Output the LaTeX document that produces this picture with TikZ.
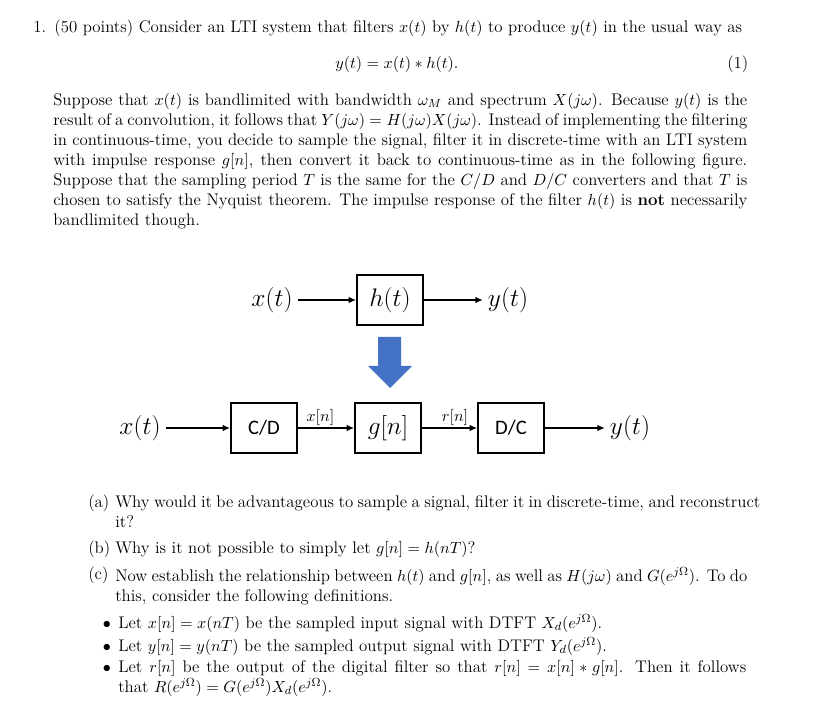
\documentclass[tikz,border=0pt]{standalone}
\usepackage{fontspec}
\newfontfamily\carlitofont{Carlito}
\usetikzlibrary{arrows.meta}
\begin{document}
\begin{tikzpicture}[x=0.68pt,y=-0.68pt,
  txt/.style={anchor=north west,inner sep=0pt,align=justify,font=\fontsize{11.45}{13.6}\selectfont},
  blk/.style={draw,line width=1.2pt,minimum width=45pt,minimum height=34pt,inner sep=0pt},
  big/.style={font=\fontsize{16}{18}\selectfont},
  sm/.style={font=\fontsize{11}{12}\selectfont},
  arr/.style={-{Latex[length=5pt,width=4.5pt]},line width=0.9pt}]
\useasboundingbox (0,0) rectangle (817,709);
\node[txt,text width=712*0.68pt] (p1) at (33,20) {1.\ \,(50 points) Consider an LTI system that filters $x(t)$ by $h(t)$ to produce $y(t)$ in the usual way as};
\node[txt] (eq) at (335,56) {$y(t)=x(t)*h(t).$};
\node[txt] (eqn) at (727,56) {(1)};
\node[txt,text width=694*0.68pt] (p2) at (53,93) {Suppose that $x(t)$ is bandlimited with bandwidth $\omega_M$ and spectrum $X(j\omega)$. Because $y(t)$ is the result of a convolution, it follows that $Y(j\omega)=H(j\omega)X(j\omega)$. Instead of implementing the filtering in continuous-time, you decide to sample the signal, filter it in discrete-time with an LTI system with impulse response $g[n]$, then convert it back to continuous-time as in the following figure. Suppose that the sampling period $T$ is the same for the $C/D$ and $D/C$ converters and that $T$ is chosen to satisfy the Nyquist theorem. The impulse response of the filter $h(t)$ is \textbf{not} necessarily bandlimited though.};
% diagram top
\node[big] (xt1) at (272,300) {$x(t)$};
\node[blk,big] (h) at (390,300) {$h(t)$};
\node[big] (yt1) at (508,300) {$y(t)$};
\draw[arr] (xt1) -- (h);
\draw[arr] (h) -- (yt1);
\fill[fill={rgb,255:red,68;green,114;blue,196}] (378,337) -- (401,337) -- (401,366) -- (412,366) -- (390,388) -- (368,366) -- (378,366) -- cycle;
% bottom
\node[big] (xt2) at (140,428) {$x(t)$};
\node[blk,font=\carlitofont\fontsize{14}{16}\selectfont] (cd) at (264,428) {C/D};
\node[blk,big] (g) at (388,428) {$g[n]$};
\node[blk,font=\carlitofont\fontsize{14}{16}\selectfont] (dc) at (511,428) {D/C};
\node[big] (yt2) at (630,428) {$y(t)$};
\draw[arr] (xt2) -- (cd);
\draw[arr] (cd) -- node[sm,above,pos=0.4,inner sep=1pt] {$x[n]$} (g);
\draw[arr] (g) -- node[sm,above,pos=0.6,inner sep=1pt] {$r[n]$} (dc);
\draw[arr] (dc) -- (yt2);
% questions
\node[txt] (la) at (88,495) {(a)};
\node[txt,text width=645*0.68pt] (qa) at (115,495) {Why would it be advantageous to sample a signal, filter it in discrete-time, and \mbox{reconstruct}\\ it?};
\node[txt] (lb) at (88,541) {(b)};
\node[txt,text width=632*0.68pt] (qb) at (115,541) {Why is it not possible to simply let $g[n]=h(nT)$?};
\node[txt] (lc) at (88,567) {(c)};
\node[txt,text width=632*0.68pt] (qc) at (115,567) {Now establish the relationship between $h(t)$ and $g[n]$, as well as $H(j\omega)$ and $G(e^{j\Omega})$. To do\linebreak this, consider the following definitions.};
\node[txt,text width=628*0.68pt] (i1) at (118,614) {\llap{$\bullet$\hspace{5pt}}Let $x[n]=x(nT)$ be the sampled input signal with DTFT $X_d(e^{j\Omega})$.};
\node[txt,text width=628*0.68pt] (i2) at (118,637) {\llap{$\bullet$\hspace{5pt}}Let $y[n]=y(nT)$ be the sampled output signal with DTFT $Y_d(e^{j\Omega})$.};
\node[txt,text width=628*0.68pt] (i3) at (118,660) {\llap{$\bullet$\hspace{5pt}}Let $r[n]$ be the output of the digital filter so that $r[n]=x[n]*g[n]$. Then it follows\linebreak that $R(e^{j\Omega})=G(e^{j\Omega})X_d(e^{j\Omega})$.};
\end{tikzpicture}
\end{document}
